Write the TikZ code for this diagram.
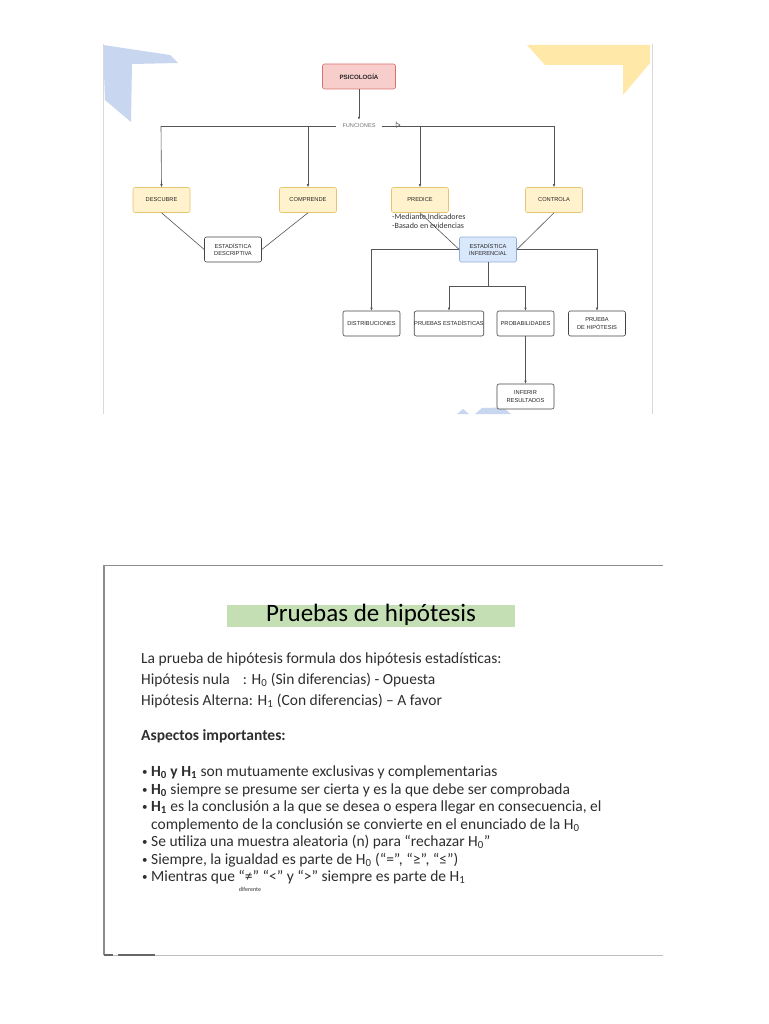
\documentclass[tikz,border=0pt]{standalone}
\usepackage{fontspec}
\setmainfont{Carlito}
\newfontfamily\boxfont{Liberation Sans}
\usetikzlibrary{arrows.meta}
\definecolor{ink}{HTML}{333333}
\definecolor{bodyink}{HTML}{2E2E2E}
\definecolor{wire}{HTML}{555555}
\definecolor{pinkfill}{HTML}{F8CECC}
\definecolor{pinkline}{HTML}{D9736F}
\definecolor{goldfill}{HTML}{FFF2CC}
\definecolor{goldline}{HTML}{E3C66F}
\definecolor{skyfill}{HTML}{DAE8FC}
\definecolor{skyline}{HTML}{8FAADC}
\definecolor{boxline}{HTML}{444444}
\definecolor{cornerblue}{HTML}{C8D6F0}
\definecolor{corneryellow}{HTML}{FFE8A8}
\definecolor{titlegreen}{HTML}{C5DFB4}
\definecolor{frame}{HTML}{8C8C8C}
\newcommand{\punto}{\makebox[10pt][l]{\hspace{1pt}\raisebox{1pt}{\fontsize{11}{11}\selectfont•}}}
\tikzset{
  card/.style={draw=boxline,fill=white,rounded corners=2pt,line width=.6pt,minimum width=57pt,minimum height=25pt,inner sep=0pt,align=center,font=\boxfont\fontsize{5.7}{7.8}\selectfont,text=black!85},
  funcbox/.style={card,fill=goldfill,draw=goldline},
  rootbox/.style={card,fill=pinkfill,draw=pinkline,minimum width=73pt,font=\boxfont\bfseries\fontsize{6.2}{7}\selectfont},
  inferbox/.style={card,fill=skyfill,draw=skyline},
  wirel/.style={draw=wire,line width=.6pt},
  arr/.style={wirel,-{Latex[length=3pt,width=2.6pt]}},
  body/.style={anchor=base west,inner sep=0pt,font=\fontsize{15.5}{18}\selectfont,text=bodyink}
}

\begin{document}
\begin{tikzpicture}[x=1pt,y=-1pt]
  \useasboundingbox (0,0) rectangle (768,1024);
  \fill[white] (0,0) rectangle (768,1024);
  % top slide
  \fill[cornerblue] (103,45)--(170,55)--(178,63)--(132,64)--(131,122)--(105,100)--cycle;
  \fill[corneryellow] (527,45)--(650,45)--(650,63)--(623,95)--(623,65)--(545,65)--cycle;
  \fill[cornerblue] (457,414)--(463,409)--(469,414)--cycle;
  \fill[cornerblue] (475,414)--(482,408)--(503,407.5)--(511,414)--cycle;
  \draw[black!15,line width=.5pt] (103.5,44)--(103.5,414); \draw[black!15,line width=.5pt] (652,44)--(652,414);

  \node[rootbox] (psico) at (359,76.5) {PSICOLOGÍA};
  \coordinate (fl) at (161,126); \coordinate (fr) at (554,126);
  \draw[wirel] (fl)--(fr);
  \node[fill=white,inner xsep=6.5pt,inner ysep=4pt,font=\boxfont\fontsize{5.6}{6}\selectfont,text=black!55] (func) at (359,126) {FUNCIONES};
  \draw[arr] (psico)--(func);
  \draw[wire,line width=.5pt] (396,121.5)--(396,127.5) (396,122.5)--(400,125)--(396,127.5);

  \node[funcbox] (descubre) at (161.5,200) {DESCUBRE};
  \node[funcbox] (comprende) at (308,200) {COMPRENDE};
  \node[funcbox] (predice) at (420,200) {PREDICE};
  \node[funcbox] (controla) at (554,200) {CONTROLA};
  \draw[arr] (fl)--(descubre.north);
  \draw[arr] (comprende.north|-fl)--(comprende.north);
  \draw[arr] (predice.north|-fl)--(predice.north);
  \draw[arr] (fr)--(controla.north);

  \node[card] (descr) at (233,249.5) {ESTADÍSTICA\\DESCRIPTIVA};
  \node[inferbox] (infer) at (488,249.5) {ESTADÍSTICA\\INFERENCIAL};
  \draw[wirel] (descubre.south)--(descr.west);
  \draw[wirel] (comprende.south)--(descr.east);
  \draw[wirel] (predice.south)--(infer.west);
  \draw[wirel] (controla.south)--(infer.east);
  \node[anchor=north west,inner sep=0pt,align=left,font=\fontsize{8}{9}\selectfont,text=ink] (nota) at (392,214) {-Mediante Indicadores\\-Basado en evidencias};

  \node[card] (distrib) at (371.5,323.5) {DISTRIBUCIONES};
  \node[card,minimum width=66pt] (pruebas) at (449,323.5) {PRUEBAS ESTADÍSTICAS};
  \node[card] (probab) at (525.5,323.5) {PROBABILIDADES};
  \node[card] (hipot) at (597,323.5) {PRUEBA\\DE HIPÓTESIS};
  \node[card] (inferir) at (525.5,396.5) {INFERIR\\RESULTADOS};
  \coordinate (split) at (488,286);
  \draw[arr] (infer.west)-|(distrib.north);
  \draw[arr] (infer.east)-|(hipot.north);
  \draw[wirel] (infer.south)--(split);
  \draw[arr] (split)-|(pruebas.north);
  \draw[arr] (split)-|(probab.north);
  \draw[arr] (probab)--(inferir);

  % bottom slide
  \draw[frame,line width=1.5pt] (103,565.5)--(663,565.5);
  \draw[frame,line width=1.2pt] (104,565)--(104,955);
  \draw[black!25,line width=.8pt] (104,955)--(663,955);
  \draw[black!60,line width=2pt] (104,954.5)--(113,954.5) (118,954.5)--(155,954.5);

  \node[fill=titlegreen,minimum width=288pt,text height=15pt,text depth=5pt,inner xsep=0pt,inner ysep=1pt,font=\fontsize{25}{30}\selectfont,text=black] (titulo) at (371,616) {Pruebas de hipótesis};
  \node[body] (intro) at (141,663) {La prueba de hipótesis formula dos hipótesis estadísticas:};
  \node[body] (nula) at (141,684) {Hipótesis nula\hspace{13pt}: H\textsubscript{0} (Sin diferencias) - Opuesta};
  \node[body] (alterna) at (141,705) {Hipótesis Alterna: H\textsubscript{1} (Con diferencias) – A favor};
  \node[body,font=\bfseries\fontsize{15.5}{18}\selectfont] (aspectos) at (141,740) {Aspectos importantes:};
  \node[body] (b1) at (141,776) {\punto\textbf{H\textsubscript{0} y H\textsubscript{1}} son mutuamente exclusivas y complementarias};
  \node[body] (b2) at (141,794) {\punto\textbf{H\textsubscript{0}} siempre se presume ser cierta y es la que debe ser comprobada};
  \node[body] (b3) at (141,811) {\punto\textbf{H\textsubscript{1}} es la conclusión a la que se desea o espera llegar en consecuencia, el};
  \node[body] (b3b) at (151,829) {complemento de la conclusión se convierte en el enunciado de la H\textsubscript{0}};
  \node[body] (b4) at (141,846) {\punto Se utiliza una muestra aleatoria (n) para “rechazar H\textsubscript{0}”};
  \node[body] (b5) at (141,864) {\punto Siempre, la igualdad es parte de H\textsubscript{0} (“=”, “≥”, “≤”)};
  \node[body] (b6) at (141,881) {\punto Mientras que “≠” “<” y “>” siempre es parte de H\textsubscript{1}};
  \node[inner sep=0pt,font=\fontsize{6}{7}\selectfont,text=ink] (dif) at (250,889) {diferente};
\end{tikzpicture}
\end{document}
